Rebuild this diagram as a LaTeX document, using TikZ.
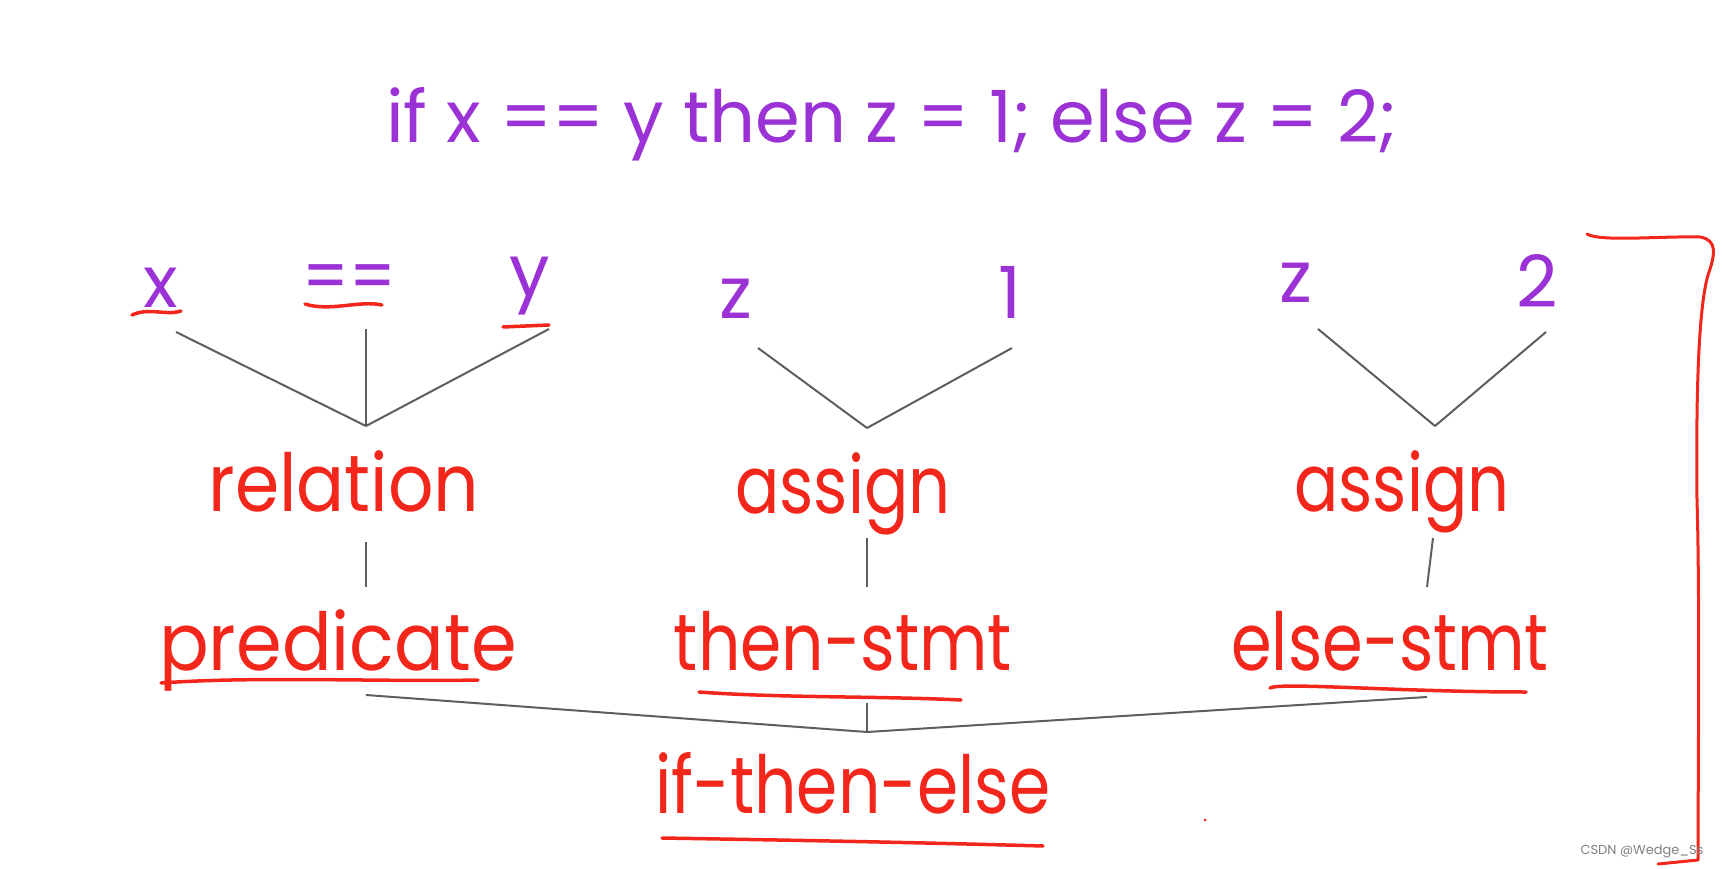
\documentclass[tikz,border=0pt]{standalone}
\usepackage{fontspec}
\usepackage{graphicx}
\setmainfont{Poppins}
\definecolor{purp}{HTML}{9A32D6}
\definecolor{redt}{HTML}{F2261B}
\definecolor{linegray}{HTML}{5E5E5E}
\newcommand\hsq[2]{\scalebox{#1}[1]{#2}}
\begin{document}
\begin{tikzpicture}[x=1pt,y=-1pt,
  leaf/.style={text=purp,font=\fontsize{72}{72}\selectfont,inner sep=0pt,anchor=base},
  lab/.style={text=redt,font=\fontsize{80}{80}\selectfont,inner sep=0pt,anchor=base},
  edge/.style={draw=linegray,line width=2pt},
  uline/.style={draw=redt,line width=3.5pt,line cap=round}]
\useasboundingbox[fill=white] (0,0) rectangle (1722,869);
% title
\node[text=purp,font=\fontsize{72}{72}\selectfont,inner sep=0pt,anchor=base] (title) at (892,143) {if x == y then z = 1; else z = 2;};
% leaves
\node[leaf] (x) at (161,307) {x};
\node[leaf,anchor=center] (eq) at (349,283) {\hsq{0.9}{==}};
\node[leaf] (y) at (530,296) {y};
\node[leaf] (z1) at (736,318) {z};
\node[leaf] (one) at (1010,318) {1};
\node[leaf] (z2) at (1296,302) {z};
\node[leaf] (two) at (1537,307) {2};
% labels
\node[lab] (rel) at (344,511) {\hsq{0.89}{relation}};
\node[lab] (as1) at (843,513) {\hsq{0.82}{assign}};
\node[lab] (as2) at (1402,511) {\hsq{0.82}{assign}};
\node[lab] (pred) at (338,670) {\hsq{0.92}{predicate}};
\node[lab] (then) at (843,670) {\hsq{0.83}{then-stmt}};
\node[lab] (else) at (1390,670) {\hsq{0.82}{else-stmt}};
\node[lab] (ite) at (853,813) {\hsq{0.83}{if-then-else}};
% junction coordinates
\coordinate (j1) at (366,426);
\coordinate (j2) at (867,428);
\coordinate (j3) at (1435,426);
\coordinate (j4) at (867,732);
\coordinate (xa) at (176,332);
\coordinate (eqa) at (366,329);
\coordinate (ya) at (549,329);
\coordinate (z1a) at (758,348);
\coordinate (onea) at (1012,348);
\coordinate (z2a) at (1318,329);
\coordinate (twoa) at (1546,332);
\coordinate (rela) at (366,542);
\coordinate (preda) at (366,587);
\coordinate (as1a) at (867,538);
\coordinate (thena) at (867,587);
\coordinate (as2a) at (1433,538);
\coordinate (elsea) at (1427,587);
\coordinate (predb) at (366,695);
\coordinate (thenb) at (867,703);
\coordinate (elseb) at (1427,697);
% edges
\draw[edge] (xa) -- (j1);
\draw[edge] (eqa) -- (j1);
\draw[edge] (ya) -- (j1);
\draw[edge] (z1a) -- (j2);
\draw[edge] (onea) -- (j2);
\draw[edge] (z2a) -- (j3);
\draw[edge] (twoa) -- (j3);
\draw[edge] (rela) -- (preda);
\draw[edge] (as1a) -- (thena);
\draw[edge] (as2a) -- (elsea);
\draw[edge] (predb) -- (j4);
\draw[edge] (thenb) -- (j4);
\draw[edge] (elseb) -- (j4);
% hand-drawn underlines
\draw[uline] (132,315) .. controls (150,307) and (165,316) .. (181,311);
\draw[uline] (305,304) .. controls (330,312) and (360,300) .. (382,305);
\draw[uline] (503,327) -- (549,325);
\draw[uline] (161,683) .. controls (260,676) and (380,682) .. (478,680);
\draw[uline] (699,692) .. controls (780,698) and (880,696) .. (961,700);
\draw[uline] (1270,688) .. controls (1280,682) and (1400,692) .. (1526,692);
\draw[uline] (662,838) .. controls (780,840) and (900,842) .. (1043,846);
% bracket
\draw[draw=redt,line width=3pt,line cap=round,line join=round]
  (1587,234) .. controls (1600,242) and (1660,236) .. (1700,237)
  .. controls (1718,240) and (1715,255) .. (1708,275)
  .. controls (1698,310) and (1696,400) .. (1697,500)
  .. controls (1700,600) and (1698,780) .. (1698,860)
  -- (1658,864);
\fill[redt] (1205,820) circle (1.5);
% watermark
\node[text=gray,font=\fontsize{13}{13}\selectfont,inner sep=0pt] (wm) at (1642,851) {CSDN @Wedge\_Ss};
\end{tikzpicture}
\end{document}
